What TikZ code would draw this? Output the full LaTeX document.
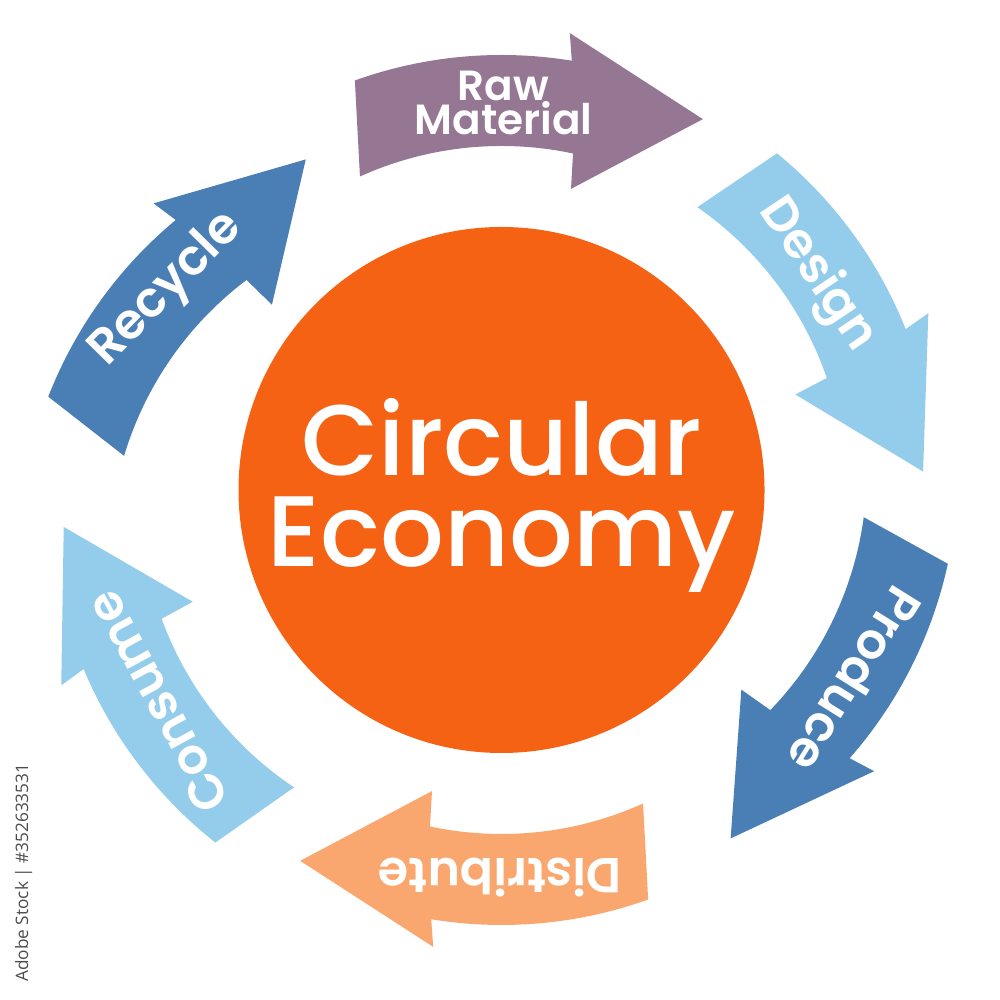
\documentclass[tikz,border=0pt]{standalone}
\usepackage{fontspec}
\setmainfont{Poppins}
\newfontfamily\labelfont{Poppins SemiBold}
\newfontfamily\hubfont{Poppins Medium}
\newfontfamily\stockfont{Open Sans}
\usetikzlibrary{positioning,calc}
\definecolor{rawmauve}{HTML}{957693}
\definecolor{skyblue}{HTML}{94CCEB}
\definecolor{steelblue}{HTML}{4A7FB6}
\definecolor{peach}{HTML}{F9A76E}
\definecolor{hubred}{HTML}{F56214}

\begin{document}
\begin{tikzpicture}

	\tikzstyle{steplabel}=[text=white, inner sep=0pt, font=\labelfont\fontsize{14}{14}\selectfont];
	\tikzstyle{hubtext}=[text=white, inner sep=0pt, anchor=base, font=\hubfont\fontsize{28.5}{28.5}\selectfont];
	\useasboundingbox (0,0) rectangle (10,10);

	\begin{scope}[shift={(5.015,5.10)}]

		% curved arrows: tail angle / colour / turn / push out
		\foreach \a/\col/\d/\s in {112/rawmauve/0/0, 53/skyblue/0/0, -6/steelblue/-4/0.10, -68/peach/0/0, -126/skyblue/0/0.20, 173/steelblue/-12/0.05}{
			\begin{scope}[rotate around={\d:(\a-20:3.87)}, shift={(\a-20:\s)}]
				\fill[\col] (\a-2.3:4.35) arc[start angle=\a-2.3, end angle=\a-31.3, radius=4.35]
					-- (\a-30.5:4.62) -- (\a-50.5:4.22) -- (\a-35:3.09)
					-- (\a-34:3.44) arc[start angle=\a-34, end angle=\a+2.3, radius=3.44] -- cycle;
			\end{scope}
		}

		\node (hub) at (0,0) [circle, fill=hubred, minimum size=5.26cm, inner sep=0pt] {};
		\node (circular) at (0,0.14) [hubtext] {Circular};
		\node (economy) at ([yshift=-0.91cm]circular.base) [hubtext] {Economy};

		\node (raw_material) at (0.02,3.87) [steplabel, align=center, font=\labelfont\fontsize{12}{9.7}\selectfont] {Raw\\Material};
		\node (design) at (3.155,2.15) [steplabel, rotate=-56] {Design};
		\node (produce) at (3.535,-1.90) [steplabel, rotate=-122] {Produce};
		\node (distribute) at (-0.015,-3.88) [steplabel, rotate=180] {Distribute};
		\node (consume) at (-3.445,-2.12) [steplabel, rotate=118.5] {Consume};
		\node (recycle) at (-3.345,2.00) [steplabel, rotate=45.5] {Recycle};

	\end{scope}

	\node (stock_id) at (0.28,2.37) [anchor=base east, rotate=90, inner sep=0pt, text=black!70, font=\stockfont\fontsize{4.9}{4.9}\selectfont] {Adobe Stock | \#352633531};

\end{tikzpicture}
\end{document}
